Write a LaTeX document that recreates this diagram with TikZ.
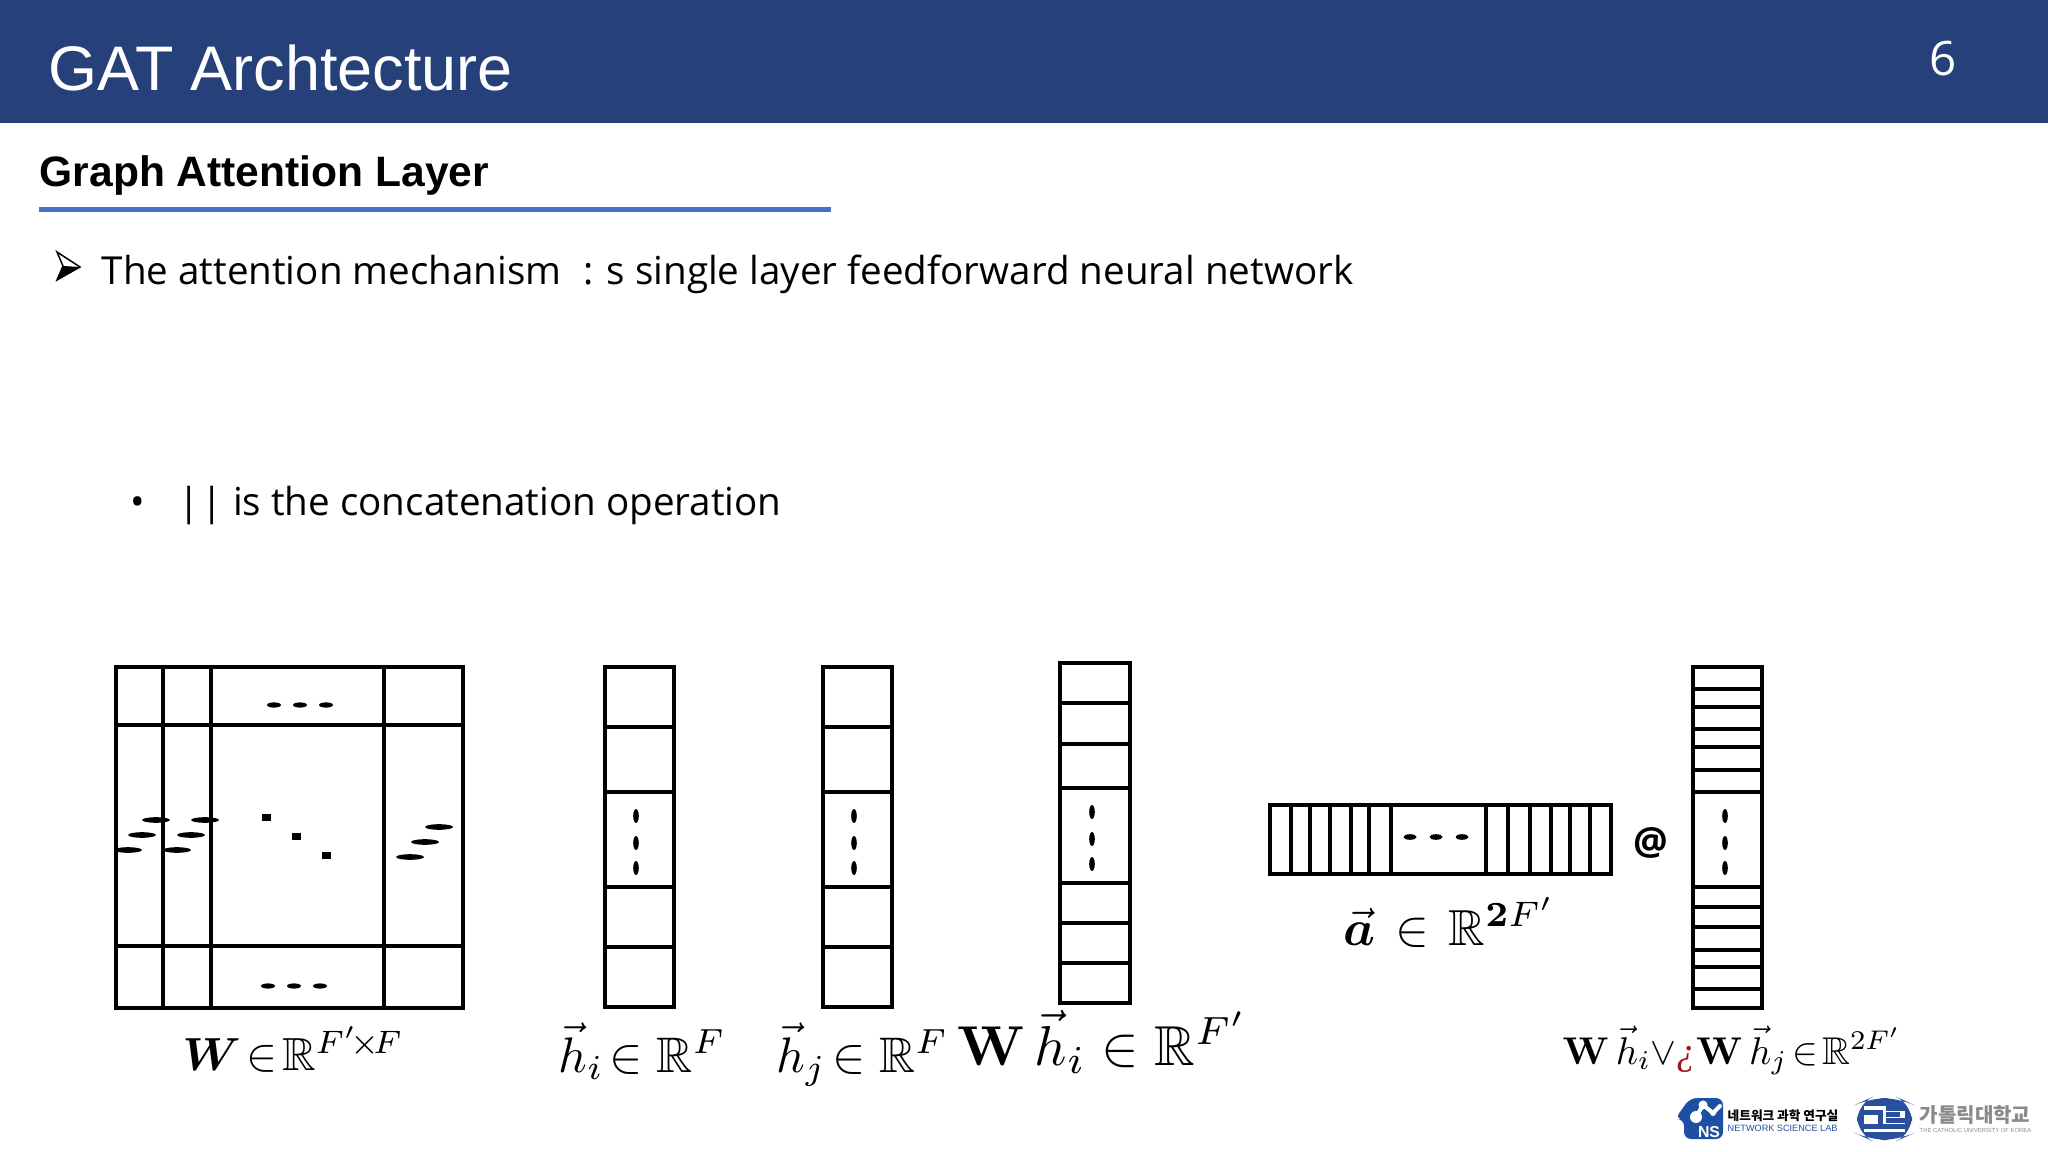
\documentclass[tikz,border=0pt]{standalone}
\usepackage{graphicx}
\usepackage{amsmath,amssymb,bm}
\usepackage[no-math]{fontspec}
\setmainfont{Open Sans}
\newfontfamily\arialfont{Liberation Sans}
\newfontfamily\serifital{Liberation Serif}
\newfontfamily\cjk{Noto Sans CJK KR}
\usetikzlibrary{positioning}
\definecolor{gatnavy}{HTML}{26407A}
\definecolor{gatrule}{HTML}{4472C4}
\definecolor{gatred}{HTML}{A01818}
\definecolor{gatlogo}{HTML}{1F4FA3}
\definecolor{gatseal}{HTML}{2A4F9C}
\definecolor{gatgrey}{HTML}{8A8A8A}
\newcommand{\fsize}[1]{\fontsize{#1}{#1}\selectfont}
\tikzstyle{gridline}=[draw=black,line width=0.4mm]
\tikzstyle{bodytext}=[anchor=base west,inner sep=0pt,text=black,font=\fsize{10.97}]
\tikzstyle{mathtext}=[anchor=base west,inner sep=0pt,text=black]

\begin{document}
\begin{tikzpicture}[x=0.01cm,y=-0.01cm]
    \useasboundingbox (0,0) rectangle (2048,1152);
    % header
    \fill[gatnavy] (0,0) rectangle (2048,123);
    \node[anchor=base west,inner sep=0pt,text=white,font=\arialfont\fsize{17.9}] (title) at (48,91) {GAT Archtecture};
    \node[anchor=base,inner sep=0pt,text=white,font=\fsize{13.5}] (pagenum) at (1943,76) {6};
    \node[anchor=base west,inner sep=0pt,text=black,font=\arialfont\bfseries\fsize{12.1}] (section) at (39,187) {Graph Attention Layer};
    \fill[gatrule] (39,207) rectangle (831,212);
    % text lines
    \fill (57,280) -- (63,266) -- (80,267) -- cycle;
    \draw[line width=0.15mm] (57,252) -- (80,267) -- (57,280) -- (63,266) -- cycle;
    \node[bodytext] (mechanism) at (101,285) {The attention mechanism\hspace{0.3em} : s single layer feedforward neural network};
    \node[anchor=base west,inner sep=0pt,font=\fsize{11}] (dotmark) at (130,515) {•};
    \node[bodytext] (concat) at (178,515) {|\hspace{0.05em}| is the concatenation operation};
    % matrix W
    \draw[gridline] (116,667) rectangle (463,1008);
    \foreach \x in {163,211,384} {\draw[gridline] (\x,667) -- (\x,1008);}
    \foreach \y in {725,946} {\draw[gridline] (116,\y) -- (463,\y);}
    \foreach \x in {274,300,326} {\fill (\x,705) ellipse [x radius=7,y radius=2.6];}
    \foreach \x in {268,294,320} {\fill (\x,986) ellipse [x radius=7,y radius=2.6];}
    \foreach \x/\y in {128/850,142/835,156/820,177/850,191/835,205/820,410/857,425/842,439/827} {\fill (\x,\y) ellipse [x radius=14,y radius=2.8];}
    \foreach \x/\y in {266/817,296/836,326/855} {\fill (\x-4.5,\y-3.5) rectangle (\x+4.5,\y+3.5);}
    \node[mathtext] (wlabel) at (182,1070) {\scalebox{1.32}{$\bm{W}\!\in\!\mathbb{R}^{F^{\prime}\!\times\! F}$}};
    % vector h_i
    \draw[gridline] (605,667) rectangle (674,1007);
    \foreach \y in {727,792,887,947} {\draw[gridline] (605,\y) -- (674,\y);}
    \foreach \y in {816,843,868} {\fill (636,\y) ellipse [x radius=2.8,y radius=7];}
    \node[mathtext] (hilabel) at (558,1072) {\scalebox{1.42}{$\vec{h}_i\!\in\mathbb{R}^{F}$}};
    % vector h_j
    \draw[gridline] (823,667) rectangle (892,1007);
    \foreach \y in {727,792,887,947} {\draw[gridline] (823,\y) -- (892,\y);}
    \foreach \y in {816,843,868} {\fill (854,\y) ellipse [x radius=2.8,y radius=7];}
    \node[mathtext] (hjlabel) at (776,1072) {\scalebox{1.42}{$\vec{h}_j\!\in\mathbb{R}^{F}$}};
    % vector W h_i
    \draw[gridline] (1060,663) rectangle (1130,1003);
    \foreach \y in {703,744,788,883,923,963} {\draw[gridline] (1060,\y) -- (1130,\y);}
    \foreach \y in {812,839,864} {\fill (1092,\y) ellipse [x radius=2.8,y radius=7];}
    \node[mathtext] (whilabel) at (957,1065) {\scalebox{1.6}{$\mathbf{W}\,\vec{h}_i\in\mathbb{R}^{F^{\prime}}$}};
    % vector a
    \draw[gridline] (1270,805) rectangle (1611,874);
    \foreach \x in {1291,1310,1330,1351,1369,1391,1486,1508,1530,1551,1570,1590} {\draw[gridline] (\x,805) -- (\x,874);}
    \foreach \x in {1410,1436,1462} {\fill (\x,837) ellipse [x radius=6.5,y radius=2.8];}
    \node[mathtext] (alabel) at (1343,945) {\scalebox{1.44}{$\vec{\bm{a}}\mkern2mu\in\mkern2mu\mathbb{R}^{\mathbf{2}F^{\prime}}$}};
    \node[anchor=center,inner sep=0pt,font=\bfseries\fsize{11}] (atsign) at (1651,843) {@};
    % vector W h_i || W h_j
    \draw[gridline] (1693,667) rectangle (1762,1008);
    \foreach \y in {689,707,729,747,770,792,887,907,927,950,967,989} {\draw[gridline] (1693,\y) -- (1762,\y);}
    \foreach \y in {816,843,868} {\fill (1725,\y) ellipse [x radius=2.8,y radius=7];}
    \node[mathtext] (concatlabel) at (1562,1064) {\scalebox{1.1}{$\mathbf{W}\,\vec{h}_i{\vee}\textcolor{gatred}{\text{\serifital\itshape ¿}}\mathbf{W}\,\vec{h}_j\!\in\!\mathbb{R}^{2F^{\prime}}$}};
    % logos
    \fill[gatlogo,rounded corners=2pt] (1675,1119) -- (1690,1098) -- (1723,1098) -- (1723,1139) -- (1684,1139) -- (1684,1119) -- cycle;
    \draw[white,line width=0.4mm] (1696,1117) -- (1703,1105) -- (1713,1113) -- (1720,1106);
    \foreach \x/\y/\r in {1696/1117/6,1703/1105/4.5,1713/1113/3,1720/1106/2} {\fill[white] (\x,\y) circle [radius=\r];}
    \node[inner sep=0pt,text=white,font=\arialfont\bfseries\fsize{4.5}] (nstext) at (1709,1132) {NS};
    \node[anchor=base west,inner sep=0pt,font=\cjk\bfseries\fsize{3.6}] (labko) at (1727,1120) {네트워크 과학 연구실};
    \node[anchor=base west,inner sep=0pt,text=gatlogo,font=\arialfont\fsize{2.6}] (laben) at (1727,1131) {NETWORK SCIENCE LAB};
    \fill[gatseal,rounded corners=5pt] (1857,1104) -- (1870,1098) -- (1899,1098) -- (1912,1104) -- (1912,1134) -- (1899,1140) -- (1870,1140) -- (1857,1134) -- cycle;
    \fill[white] (1864,1106) rectangle (1905,1132);
    \draw[gatseal,line width=0.5mm] (1864,1112) -- (1880,1112) -- (1880,1126) (1886,1108) -- (1905,1108) (1886,1114) -- (1900,1114) (1886,1120) -- (1905,1120) (1864,1126) -- (1905,1126);
    \node[anchor=base west,inner sep=0pt,text=gatgrey,font=\cjk\bfseries\fsize{5.7}] (univko) at (1919,1122) {가톨릭대학교};
    \node[anchor=base west,inner sep=0pt,text=gatgrey,font=\arialfont\fsize{1.67}] (univen) at (1919,1132) {THE CATHOLIC UNIVERSITY OF KOREA};
\end{tikzpicture}
\end{document}
